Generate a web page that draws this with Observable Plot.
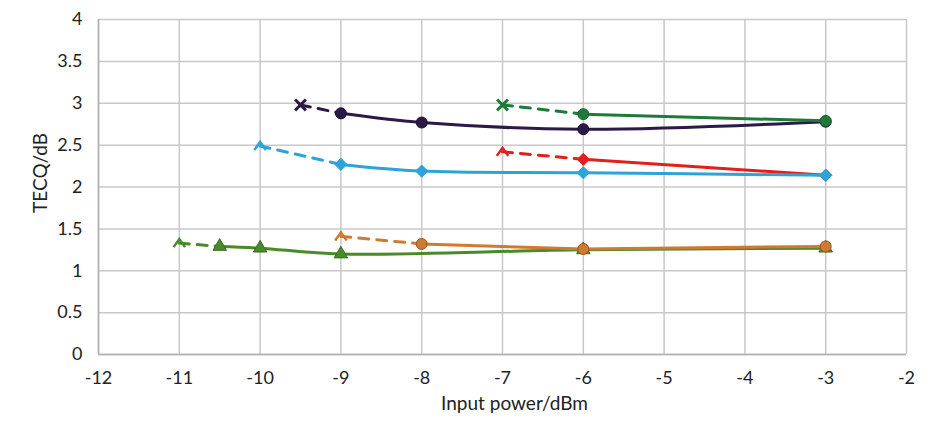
<!DOCTYPE html>
<html><head><meta charset="utf-8">
<script src="https://cdn.jsdelivr.net/npm/d3@7"></script>
<script src="https://cdn.jsdelivr.net/npm/@observablehq/plot@0.6"></script>
<style>
body{margin:0;background:#fff}
#chart svg g[aria-label$="tick label"]{font-size:18px !important;}
#chart svg g[aria-label$="tick label"] text{font-size:18px !important;}
</style>
</head><body><div id="chart"></div>
<script>
// Each series: first point is the dashed-start marker, rest are solid points
const purpleX = [-9.5, -9, -8, -6, -3];
const purpleY = [2.98, 2.88, 2.77, 2.69, 2.78];
const greenX = [-7, -6, -3];
const greenY = [2.98, 2.87, 2.79];
const redX = [-7, -6, -3];
const redY = [2.42, 2.33, 2.14];
const blueX = [-10, -9, -8, -6, -3];
const blueY = [2.49, 2.27, 2.19, 2.17, 2.14];
const orangeX = [-9, -8, -6, -3];
const orangeY = [1.41, 1.32, 1.26, 1.29];
const oliveX = [-11, -10.5, -10, -9, -6, -3];
const oliveY = [1.33, 1.29, 1.27, 1.20, 1.25, 1.27];

const xTicks = [-12,-11,-10,-9,-8,-7,-6,-5,-4,-3,-2];
const yTicks = [0,0.5,1,1.5,2,2.5,3,3.5,4];
const yTickLabels = ["0","0.5","1","1.5","2","2.5","3","3.5","4"];
const xTitle = "Input power/dBm";
const yTitle = "TECQ/dB";

const caret = {draw(ctx, size){const r=Math.sqrt(size)/2; ctx.moveTo(-r,r*0.7); ctx.lineTo(0,-r*0.7); ctx.lineTo(r,r*0.7);}};

const defs = [
  {X:purpleX, Y:purpleY, color:"#2b1a48", edge:"#1a0f30", sym:"circle", start:"times", curve:"catmull-rom"},
  {X:greenX, Y:greenY, color:"#1f7a3a", edge:"#1a6630", sym:"circle", start:"times", curve:"linear"},
  {X:redX, Y:redY, color:"#e0201c", edge:"#e0201c", sym:"diamond2", start:"caret", curve:"linear"},
  {X:blueX, Y:blueY, color:"#2da3d8", edge:"#2da3d8", sym:"diamond2", start:"caret", curve:"catmull-rom"},
  {X:oliveX, Y:oliveY, color:"#4a8a2a", edge:"#3a6f20", sym:"triangle", start:"caret", curve:"catmull-rom"},
  {X:orangeX, Y:orangeY, color:"#cf7a33", edge:"#9a5522", sym:"circle", start:"caret", curve:"linear"}
];

const marks = [
  Plot.gridX(xTicks, {stroke:"#c8c8c8", strokeOpacity:1, strokeWidth:1.5}),
  Plot.gridY(yTicks, {stroke:"#c8c8c8", strokeOpacity:1, strokeWidth:1.5}),
  Plot.ruleY([0], {stroke:"#b0b0b0", strokeWidth:1.5}),
  Plot.ruleX([-12], {stroke:"#b0b0b0", strokeWidth:1.5})
];

for (const s of defs) {
  const pts = s.X.map((x,i)=>({x, y:s.Y[i]}));
  const dash = pts.slice(0,2);
  const solid = pts.slice(1);
  marks.push(Plot.line(dash, {x:"x", y:"y", stroke:s.color, strokeWidth:3, strokeDasharray:"10,8"}));
  marks.push(Plot.line(solid, {x:"x", y:"y", stroke:s.color, strokeWidth:3, curve:s.curve}));
  marks.push(Plot.dot(solid, {x:"x", y:"y", symbol:s.sym, fill:s.color, stroke:s.edge, strokeWidth:1, r: s.sym==="triangle"?5:5.5}));
  if (s.start === "times") {
    marks.push(Plot.dot([pts[0]], {x:"x", y:"y", symbol:"times", stroke:s.color, strokeWidth:3, r:5}));
  } else {
    marks.push(Plot.dot([pts[0]], {x:"x", y:"y", symbol:caret, stroke:s.color, fill:"none", strokeWidth:2.5, r:6.5}));
  }
}

const chart = Plot.plot({
  width: 950, height: 431,
  marginLeft: 98, marginRight: 44, marginTop: 19, marginBottom: 77,
  style: {fontFamily: "Lato, 'Open Sans', sans-serif", fontSize: "18px", color:"#222", background:"#fff"},
  x: {domain:[-12,-2]},
  y: {domain:[0,4]},
  marks: [
    ...marks,
    Plot.axisX({ticks:xTicks, tickSize:0, tickPadding:17, label:null, tickFormat:d=>String(d), fontSize:18}),
    Plot.axisY({ticks:yTicks, tickSize:0, tickPadding:16, label:null, tickFormat:(d,i)=>yTickLabels[i], fontSize:18}),
    Plot.text([xTitle], {frameAnchor:"bottom", dx:12, dy:55, fontSize:19, fill:"#222"}),
    Plot.text([yTitle], {frameAnchor:"left", textAnchor:"middle", dx:-58, dy:-14, rotate:-90, fontSize:19, fill:"#222"})
  ]
});
document.getElementById("chart").appendChild(chart);
</script>
</body></html>
